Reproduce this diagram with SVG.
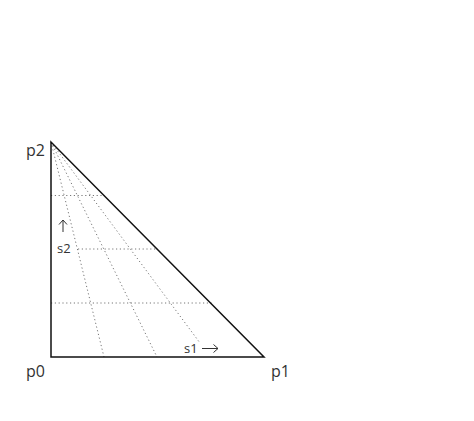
<svg xmlns="http://www.w3.org/2000/svg" width="474" height="421" viewBox="0 0 474 421">
<style>
.lbl{font-family:"Open Sans","Noto Sans",sans-serif;fill:#333;}
.big{font-size:16px;}
.sm{font-size:13px;}
.dot{stroke:#777;stroke-width:1;stroke-dasharray:1.2 2.6;fill:none;}
.edge{stroke:#111;stroke-width:1.5;fill:none;}
.arr{stroke:#333;stroke-width:1;fill:none;}
</style>
<rect width="474" height="421" fill="#fff"/>
<g id="grid">
<line class="dot" x1="51" y1="195.5" x2="104.5" y2="195.5"/>
<line class="dot" x1="78" y1="249" x2="158" y2="249"/>
<line class="dot" x1="51" y1="303" x2="211.5" y2="303"/>
<line class="dot" x1="51" y1="142" x2="104" y2="357"/>
<line class="dot" x1="51" y1="142" x2="157" y2="357"/>
<line class="dot" x1="51" y1="142" x2="200" y2="343"/>
</g>
<g id="connectors">
<polygon class="edge" points="51,142 51,357 264,357"/>
</g>
<g id="p2"><text class="lbl big" x="26" y="156">p2</text></g>
<g id="p0"><text class="lbl big" x="26" y="377">p0</text></g>
<g id="p1"><text class="lbl big" x="271" y="377">p1</text></g>
<g id="s2"><text class="lbl sm" x="57" y="253">s2</text><path class="arr" d="M63,232 V220 M59,224.5 L63,220 L67,224.5"/></g>
<g id="s1"><text class="lbl sm" x="184" y="353">s1</text><path class="arr" d="M202,348.5 H218 M213.5,344.5 L218,348.5 L213.5,352.5"/></g>
</svg>
